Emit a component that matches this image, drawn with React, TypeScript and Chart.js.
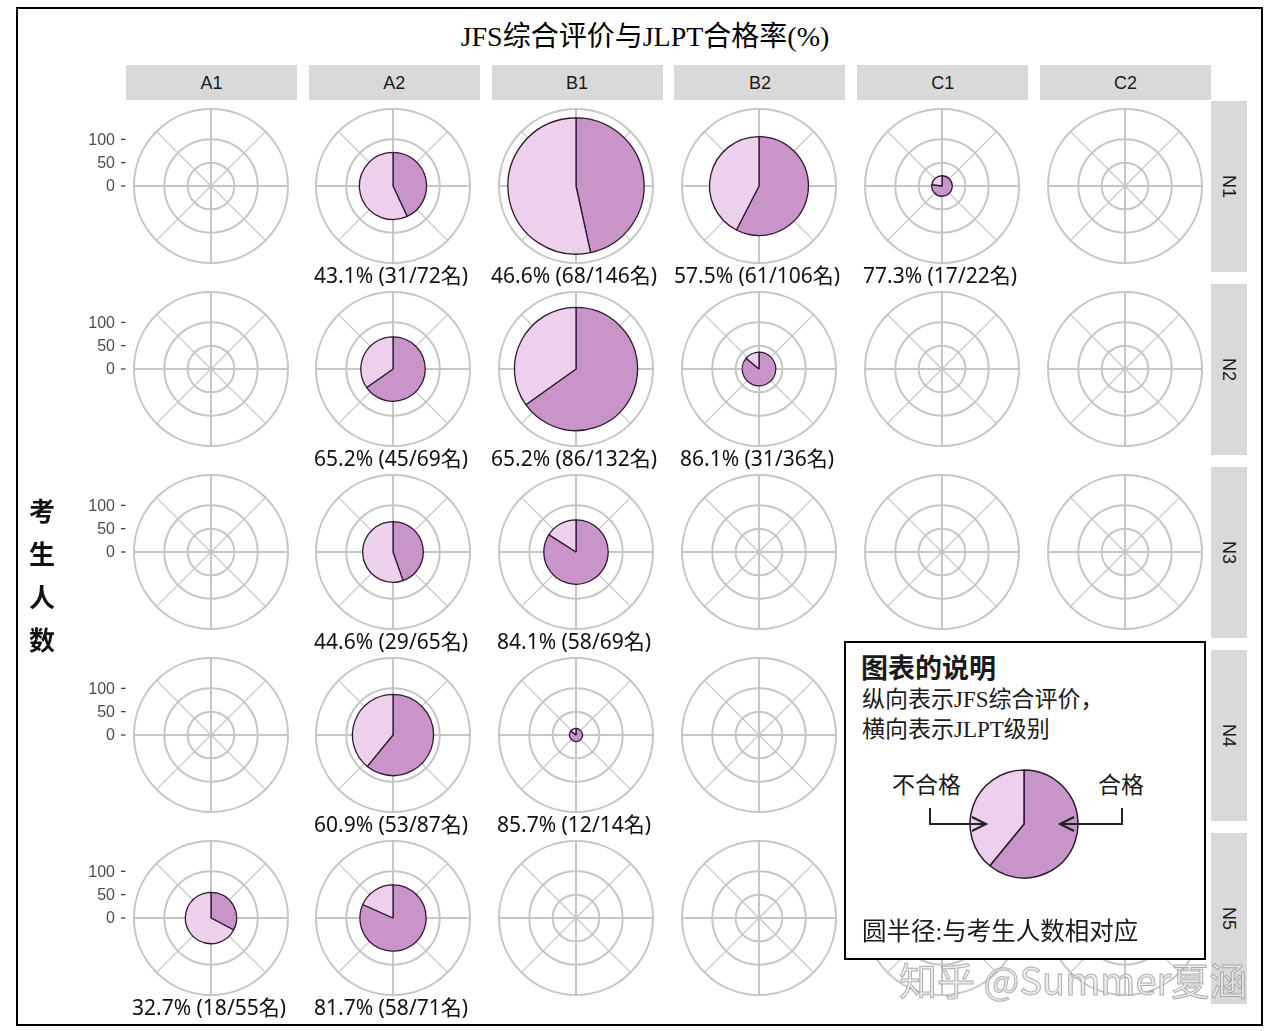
import React, { useEffect, useRef } from 'react';
import { Chart, registerables } from 'chart.js';

Chart.register(...registerables);

// ---- data -------------------------------------------------------------
const jlptLevels = ['N1', 'N2', 'N3', 'N4', 'N5'];
const jfsLevels = ['A1', 'A2', 'B1', 'B2', 'C1', 'C2'];
// passed examinees, rows = JLPT level, columns = JFS level
const passed: (number | null)[][] = [
  [null, 31, 68, 61, 17, null],
  [null, 45, 86, 31, null, null],
  [null, 29, 58, null, null, null],
  [null, 53, 12, null, null, null],
  [18, 58, null, null, null, null],
];
// total examinees
const examinees: (number | null)[][] = [
  [null, 72, 146, 106, 22, null],
  [null, 69, 132, 36, null, null],
  [null, 65, 69, null, null, null],
  [null, 87, 14, null, null, null],
  [55, 71, null, null, null, null],
];
const radiusTicks = [0, 50, 100];
const radiusLimit = 165;
const angleGuides = ['0°', '45°', '90°', '135°', '180°', '225°', '270°', '315°'];
const legendExample = { passed: 53, total: 87 };

const passColor = '#c994c7';
const failColor = '#edd0ec';
const edgeColor = '#2e1a30';
const gridColor = '#c6c6c6';

// ---- layout --------------------------------------------------------------
const colX0 = 211.5;
const colStep = 182.8;
const rowY0 = 186.5;
const rowStep = 183;

const cellTextPlugin = {
  id: 'cellText',
  afterDraw(chart: any, _args: any, opts: any) {
    const s = chart.scales.r;
    const ctx = chart.ctx;
    ctx.save();
    if (opts.showAxis) {
      ctx.font = '16px "Liberation Sans", Arial, sans-serif';
      ctx.fillStyle = '#4d4d4d';
      ctx.textAlign = 'right';
      ctx.textBaseline = 'middle';
      ctx.strokeStyle = '#333333';
      ctx.lineWidth = 1.2;
      radiusTicks.forEach((v) => {
        const y = s.yCenter - s.getDistanceFromCenterForValue(v);
        ctx.fillText(String(v), s.xCenter - 96, y + 1);
        ctx.beginPath();
        ctx.moveTo(s.xCenter - 90, y);
        ctx.lineTo(s.xCenter - 85.5, y);
        ctx.stroke();
      });
    }
    if (opts.label) {
      ctx.font = '21px "Noto Sans", "Noto Sans CJK JP", sans-serif';
      ctx.fillStyle = '#111111';
      ctx.textAlign = 'center';
      ctx.textBaseline = 'middle';
      ctx.fillText(opts.label, s.xCenter - 2, s.yCenter + 91);
    }
    ctx.restore();
  },
};

function Cell({ row, col }: { row: number; col: number }) {
  const ref = useRef<HTMLCanvasElement>(null);
  const p = passed[row][col];
  const t = examinees[row][col];
  const cx = colX0 + col * colStep;
  const cy = rowY0 + row * rowStep;
  useEffect(() => {
    if (!ref.current) return;
    const label = t ? `${((p as number) / t * 100).toFixed(1)}% (${p}/${t}名)` : '';
    const chart = new Chart(ref.current, {
      type: 'polarArea',
      data: {
        labels: angleGuides,
        datasets: [
          {
            data: t ? [t, t] : [],
            backgroundColor: [passColor, failColor],
            borderColor: edgeColor,
            borderWidth: 1.3,
            angle: (c: any) => {
              if (!t) return 0;
              const frac = (p as number) / t;
              return c.dataIndex === 0 ? frac * 360 : (1 - frac) * 360;
            },
          } as any,
        ],
      },
      options: {
        responsive: false,
        animation: false,
        events: [],
        layout: { padding: { left: 52, right: 53, top: 17, bottom: 38 } },
        plugins: {
          legend: { display: false },
          tooltip: { enabled: false },
          cellText: { showAxis: col === 0, label },
        } as any,
        scales: {
          r: {
            min: 0,
            max: radiusLimit,
            startAngle: 0,
            ticks: { display: false },
            afterBuildTicks: (scale: any) => {
              scale.ticks = [...radiusTicks, radiusLimit].map((v) => ({ value: v }));
            },
            grid: { circular: true, color: gridColor, lineWidth: 2 },
            angleLines: {
              display: true,
              color: gridColor,
              lineWidth: (c: any) => (c.index % 2 === 0 ? 2 : 1.2),
            },
            pointLabels: { display: false },
          } as any,
        },
      },
      plugins: [cellTextPlugin],
    });
    return () => chart.destroy();
  }, [row, col]);
  return (
    <canvas
      ref={ref}
      width={260}
      height={210}
      style={{ position: 'absolute', left: Math.round(cx - 130), top: Math.round(cy - 95), width: 260, height: 210 }}
    />
  );
}

function LegendPie() {
  const ref = useRef<HTMLCanvasElement>(null);
  useEffect(() => {
    if (!ref.current) return;
    const { passed: p, total: t } = legendExample;
    const chart = new Chart(ref.current, {
      type: 'polarArea',
      data: {
        labels: ['合格', '不合格'],
        datasets: [
          {
            data: [t, t],
            backgroundColor: [passColor, failColor],
            borderColor: edgeColor,
            borderWidth: 1.5,
            angle: (c: any) => (c.dataIndex === 0 ? (p / t) * 360 : (1 - p / t) * 360),
          } as any,
        ],
      },
      options: {
        responsive: false,
        animation: false,
        events: [],
        layout: { padding: 16 },
        plugins: { legend: { display: false }, tooltip: { enabled: false } },
        scales: {
          r: {
            min: 0,
            max: t,
            ticks: { display: false },
            grid: { display: false },
            angleLines: { display: false },
            pointLabels: { display: false },
          } as any,
        },
      },
    });
    return () => chart.destroy();
  }, []);
  return (
    <canvas
      ref={ref}
      width={140}
      height={140}
      style={{ position: 'absolute', left: 954 - 846, top: 754 - 643, width: 140, height: 140 }}
    />
  );
}

const serifCJK = '"Liberation Serif", "Noto Sans CJK SC", serif';

export default function App() {
  const cells: React.ReactNode[] = [];
  jlptLevels.forEach((_, r) => jfsLevels.forEach((__, c) => cells.push(<Cell key={`${r}-${c}`} row={r} col={c} />)));
  return (
    <div
      style={{
        position: 'absolute',
        left: 0,
        top: 0,
        width: 1282,
        height: 1031,
        background: '#ffffff',
        overflow: 'hidden',
        fontFamily: '"Liberation Sans", Arial, sans-serif',
      }}
    >
      {/* column strips */}
      {jfsLevels.map((lv, c) => (
        <div
          key={lv}
          style={{
            position: 'absolute',
            left: 126 + c * colStep,
            top: 65,
            width: 171,
            height: 35,
            background: '#d9d9d9',
            color: '#1a1a1a',
            fontSize: 18,
            lineHeight: '37px',
            textAlign: 'center',
          }}
        >
          {lv}
        </div>
      ))}
      {/* row strips */}
      {jlptLevels.map((lv, r) => (
        <div
          key={lv}
          style={{
            position: 'absolute',
            left: 1211,
            top: 101 + r * rowStep,
            width: 36,
            height: 171,
            background: '#d9d9d9',
            color: '#1a1a1a',
            fontSize: 18,
            display: 'flex',
            alignItems: 'center',
            justifyContent: 'center',
          }}
        >
          <span style={{ display: 'inline-block', transform: 'rotate(90deg)' }}>{lv}</span>
        </div>
      ))}
      {cells}
      {/* title */}
      <div
        style={{
          position: 'absolute',
          left: 0,
          width: 1290,
          top: 19,
          textAlign: 'center',
          fontFamily: serifCJK,
          fontSize: 28,
          lineHeight: '36px',
          color: '#000',
        }}
      >
        JFS综合评价与JLPT合格率(%)
      </div>
      {/* y title */}
      <div
        style={{
          position: 'absolute',
          left: 22,
          width: 40,
          top: 488,
          textAlign: 'center',
          fontFamily: '"Noto Sans CJK SC", sans-serif',
          fontWeight: 700,
          fontSize: 26,
          lineHeight: '43px',
          color: '#111',
        }}
      >
        {'考生人数'.split('').map((ch, i) => (
          <div key={i}>{ch}</div>
        ))}
      </div>
      {/* legend box */}
      <div
        style={{
          position: 'absolute',
          left: 844,
          top: 641,
          width: 362,
          height: 319,
          boxSizing: 'border-box',
          border: '2px solid #000',
          background: '#fff',
          zIndex: 5,
          fontFamily: serifCJK,
          color: '#1a1a1a',
        }}
      >
        <div style={{ position: 'absolute', left: 15, top: 6, fontSize: 27, fontWeight: 700, lineHeight: '36px', fontFamily: '"Noto Sans CJK SC", sans-serif' }}>
          图表的说明
        </div>
        <div style={{ position: 'absolute', left: 16, top: 42, fontSize: 23, lineHeight: '30px', whiteSpace: 'nowrap' }}>
          纵向表示JFS综合评价，
          <br />
          横向表示JLPT级别
        </div>
        <div style={{ position: 'absolute', left: 46, top: 128, fontSize: 23, lineHeight: '30px' }}>不合格</div>
        <div style={{ position: 'absolute', left: 252, top: 128, fontSize: 23, lineHeight: '30px' }}>合格</div>
        <LegendPie />
        <svg width={362} height={319} style={{ position: 'absolute', left: -2, top: -2 }}>
          <g fill="none" stroke="#222" strokeWidth={2}>
            <polyline points="86,167 86,183 142,183" />
            <polyline points="128,176 142,183 128,190" />
            <polyline points="278,167 278,183 216,183" />
            <polyline points="230,176 216,183 230,190" />
          </g>
        </svg>
        <div style={{ position: 'absolute', left: 16, top: 274, fontSize: 24.5, lineHeight: '30px', whiteSpace: 'nowrap' }}>
          圆半径:与考生人数相对应
        </div>
      </div>
      {/* outer frame */}
      <div
        style={{
          position: 'absolute',
          left: 16,
          top: 7,
          width: 1247,
          height: 1019,
          boxSizing: 'border-box',
          border: '2px solid #000',
          zIndex: 4,
          pointerEvents: 'none',
        }}
      />
      {/* watermark */}
      <div
        style={{
          position: 'absolute',
          left: 899,
          top: 954,
          fontSize: 38,
          lineHeight: '50px',
          fontFamily: '"Noto Sans CJK SC", sans-serif',
          color: 'rgba(235,235,235,0.85)',
          WebkitTextStroke: '1px rgba(150,150,150,0.75)',
          whiteSpace: 'nowrap',
          zIndex: 6,
        }}
      >
        知乎 @Summer夏涵
      </div>
    </div>
  );
}
